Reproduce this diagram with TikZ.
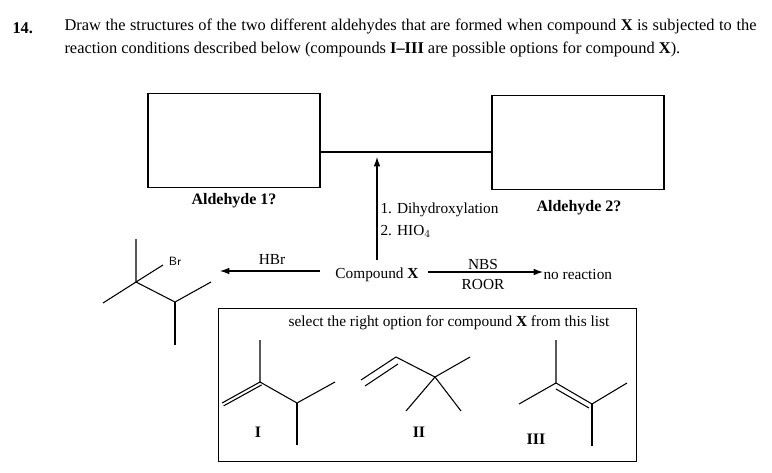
\documentclass[tikz,border=0pt]{standalone}
\usepackage{fontspec}
\setmainfont{Liberation Serif}
\usetikzlibrary{arrows.meta,calc}
\begin{document}
\begin{tikzpicture}[x=0.75pt,y=-0.75pt,line width=0.8pt,
  bond/.style={line width=0.8pt},
  lbl/.style={inner sep=0pt,font=\fontsize{11.5}{13}\selectfont},
  boldlbl/.style={inner sep=0pt,font=\fontsize{12}{14}\selectfont\bfseries},
  arr/.style={-{Latex[length=7pt,width=5pt]}}]
\useasboundingbox (0,0) rectangle (772,472);
\node[anchor=base west,inner sep=0pt,font=\fontsize{12.3}{17}\selectfont\bfseries] (num) at (12,33) {14.};
\node[anchor=north west,inner sep=0pt,text width=519pt,align=justify,font=\fontsize{12.3}{17.5}\selectfont] (q) at (64,18)
 {Draw the structures of the two different aldehydes that are formed when compound \textbf{X} is subjected to the reaction conditions described below (compounds \textbf{I--III} are possible options for compound \textbf{X}).};
% aldehyde boxes
\node[draw,minimum width=129pt,minimum height=71pt,inner sep=0pt] (b1) at (234,140.5) {};
\node[draw,minimum width=129pt,minimum height=71pt,inner sep=0pt] (b2) at (578,142.5) {};
\draw (b1.east |- 0,152) -- (b2.west |- 0,152);
\coordinate (tip) at (377,157);
\node[lbl,anchor=base] (cx) at (377,278) {Compound \textbf{X}};
\draw[arr] (377,260) -- (tip);
\node[lbl,anchor=base west] (s1) at (380,213) {1. Dihydroxylation};
\node[lbl,anchor=base west] (s2) at (380,235) {2. HIO$_4$};
\node[boldlbl,anchor=base] (a1) at (234,204) {Aldehyde 1?};
\node[boldlbl,anchor=base] (a2) at (579,211) {Aldehyde 2?};
% HBr
\coordinate (hl) at (220,271);
\draw[arr] (320,271) -- (hl);
\node[lbl,anchor=base] (hbr) at (272,264) {HBr};
\node[lbl,anchor=base west] (nr) at (543,279) {no reaction};
\draw[arr] (428,272) -- (nr.west |- 0,272);
\node[lbl,anchor=base] (nbs) at (483,269) {NBS};
\node[lbl,anchor=base] (roor) at (483,289) {ROOR};
% bromide
\draw[bond] (136,239) -- (136,282) -- (103,303);
\draw[bond] (136,282) -- (163,265);
\draw[bond] (136,282) -- (175,302) -- (211,282);
\draw[bond] (175,302) -- (175,345);
\node[inner sep=0pt,font=\sffamily\fontsize{9}{10}\selectfont] (br) at (175,261) {Br};
% option box
\node[draw,anchor=north west,minimum width=313.5pt,minimum height=114.75pt,inner sep=0pt] (box) at (218,308) {};
\node[lbl,anchor=base] (sel) at (449,326) {select the right option for compound \textbf{X} from this list};
% I
\draw[bond] (260,340) -- (260,382) -- (297,403) -- (335,382);
\draw[bond] (297,403) -- (297,445);
\draw[bond] (260,382) -- (222,403);
\draw[bond] ($(260,382)+(1.6,2.9)$) -- ($(222,403)+(1.6,2.9)$);
\node[boldlbl,anchor=base] (l1) at (258,437) {I};
% II
\draw[bond] (361,380) -- (396,357) -- (435,377) -- (470,357);
\draw[bond] (365,386) -- (398,364);
\draw[bond] (406,411) -- (435,377) -- (461,411);
\node[boldlbl,anchor=base] (l2) at (419,437) {II};
% III
\draw[bond] (556,340) -- (556,383) -- (519,404);
\draw[bond] (556,383) -- (592,404) -- (627,383);
\draw[bond] (592,404) -- (592,446);
\draw[bond] (556,389) -- (589,408);
\node[boldlbl,anchor=base] (l3) at (536,444) {III};
\end{tikzpicture}
\end{document}
